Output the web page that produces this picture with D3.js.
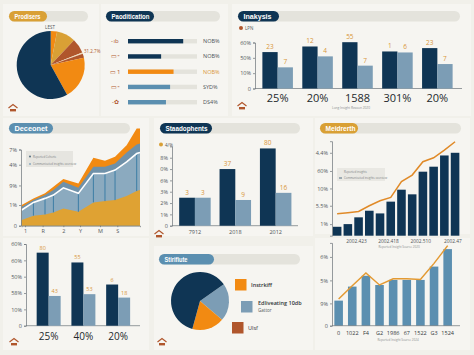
<!DOCTYPE html>
<html>

<head>
    <title>Dashboard</title>
    <script src="https://cdnjs.cloudflare.com/ajax/libs/d3/7.6.1/d3.min.js"></script>
    <style>
        html,
        body {
            margin: 0;
            padding: 0;
            background-color: #f1f0ea;
        }

        svg {
            display: block;
            font-family: 'Open Sans', sans-serif;
        }

        .axis path,
        .axis line {
            stroke: #6b7278;
            stroke-width: 0.7;
        }

        .axis text {
            fill: #55595c;
        }

        .title {
            font-family: 'Liberation Sans', sans-serif;
        }
    </style>
</head>

<body>
    <div id="chart"></div>

    <script>
        const navy = '#0f3554';
        const steel = '#7c9db5';
        const blue = '#5b8fb0';
        const orange = '#f28a12';
        const gold = '#d9a035';
        const rust = '#b0562c';
        const track = '#e4e3dc';

        // top left pie
        const pieValues = [3, 9, 7, 0.6, 2, 20.4, 58];
        const pieColors = [orange, gold, rust, '#f0d9b8', rust, orange, navy];

        // progress rows
        const rowValues = [80, 48, 66, 61, 55];
        const rowLabels = ['NOB%', 'NOB%', 'NOB%', 'SYD%', 'DS4%'];
        const rowColors = [navy, navy, orange, blue, blue];
        const rowIcons = ['⁃ıb', '▭⁃', '▭ 1', '▭⁃', '⁃✿'];

        // analysis bars
        const analysisCats = ['25%', '20%', '1588', '301%', '20%'];
        const analysisDark = [47.5, 54.8, 60.4, 48.3, 52.7];
        const analysisLight = [27.6, 41.9, 29.8, 47, 31.9];
        const analysisDarkLabels = ['23', '12', '55', '1', '23'];
        const analysisLightLabels = ['7', '4', '7', '6', '7'];
        const analysisTicks = [0, 20, 40, 60];
        const analysisTickLabels = ['0', '10%', '50%', '60%'];

        // stacked area
        const areaX = [0, 9.9, 19.7, 26.8, 35.2, 47.9, 60.6, 70.4, 78.9, 88.7, 97.2, 100];
        const areaGold = [0.52, 0.92, 1.04, 1.22, 1.59, 1.28, 2.14, 2.26, 2.35, 2.72, 3.18, 3.27];
        const areaSteel = [1.44, 2.14, 2.51, 2.81, 3.48, 2.97, 4.8, 4.8, 5.11, 5.87, 6.63, 6.73];
        const areaBand = [1.74, 2.35, 2.81, 3.27, 4.04, 3.48, 5.41, 5.41, 5.72, 6.73, 7.46, 7.55];
        const areaOrange = [1.9, 2.51, 2.97, 3.58, 4.28, 3.88, 6.24, 5.96, 6.33, 7.4, 8.93, 8.93];
        const areaDrops = [1, 2, 3, 5, 6, 7, 8, 10];
        const areaTicks = [0, 1.9, 3.7, 5.6, 7];
        const areaTickLabels = ['0', '1%', '9%', '4%', '7%'];
        const areaXTicks = [2.8, 17.7, 35.2, 49.3, 66.2, 80.8];
        const areaXLabels = ['1', 'R', '2', 'Y', 'M', 'S'];

        // middle bars
        const midCats = ['7912', '2018', '2012'];
        const midDark = [2.47, 5, 6.82];
        const midLight = [2.47, 2.27, 2.9];
        const midDarkLabels = ['3', '37', '80'];
        const midLightLabels = ['3', '9', '16'];
        const midTicks = [0, 1, 2, 3, 4, 5, 6];
        const midTickLabels = ['0', '1%', '2%', '3%', '6%', '0%', '8%'];

        // bars and line, right
        const rightBars = [0.5, 0.65, 1.03, 1.4, 1.25, 1.91, 2.58, 2.32, 3.59, 3.87, 4.5, 4.65];
        const rightLine = [1.23, 1.29, 1.36, 1.68, 1.96, 2.15, 3.03, 3.4, 4.15, 4.37, 4.8, 5.27];
        const rightTicks = [0.65, 1.68, 2.65, 3.63, 4.65];
        const rightTickLabels = ['1%', '5.5%', '10%', '60%', '4.4%'];
        const rightXLabels = ['2002.423', '2002.418', '2002.510', '2002.47'];

        // lower left bars
        const lowCats = ['25%', '40%', '20%'];
        const lowDark = [44.7, 38.7, 25.2];
        const lowLight = [18.2, 19.3, 17.2];
        const lowDarkLabels = ['80', '55', '6'];
        const lowLightLabels = ['43', '53', '18'];
        const lowTicks = [0, 10, 20, 30, 40, 50];
        const lowTickLabels = ['0', '10%', '58%', '50%', '60%', '60%'];

        // lower pie
        const pie2Values = [21, 18, 61];
        const pie2Colors = [steel, orange, navy];

        // bottom right
        const endCats = ['0', '1022', 'F4', 'G2', '1986', '67', '1522', 'G3', '1524'];
        const endBars = [1.09, 1.7, 2.17, 1.77, 1.99, 1.99, 1.99, 2.57, 3.33];
        const endLine = [1.16, 1.74, 2.29, 1.77, 2.04, 2.04, 2.01, 2.71, 3.48];
        const endTicks = [0, 0.97, 1.97, 2.99];
        const endTickLabels = ['0', '9%', '5%', '6%'];

        const svg = d3.select('#chart').append('svg').attr('width', 474).attr('height', 355);

        svg.append('rect').attr('width', 474).attr('height', 355).attr('fill', '#f1f0ea');

        // panels
        const panels = [[3, 4, 96, 112], [101, 4, 127, 112], [232, 4, 239, 112],
            [3, 118, 146, 118], [154, 118, 159, 118], [315, 118, 155, 116],
            [3, 238, 146, 112], [154, 246, 159, 104], [315, 238, 155, 112]];
        svg.selectAll('rect.panel').data(panels).enter().append('rect')
            .attr('class', 'panel')
            .attr('x', d => d[0]).attr('y', d => d[1])
            .attr('width', d => d[2]).attr('height', d => d[3])
            .attr('fill', '#f6f5f1');

        function header(text, x, y, pillW, trackW, color, textW) {
            svg.append('rect').attr('x', x).attr('y', y).attr('width', trackW).attr('height', 10.5)
                .attr('rx', 5.2).attr('fill', track);
            svg.append('rect').attr('x', x).attr('y', y).attr('width', pillW).attr('height', 10.5)
                .attr('rx', 5.2).attr('fill', color);
            svg.append('text').attr('class', 'title').attr('x', x + 5.5).attr('y', y + 7.8).attr('fill', '#fff')
                .attr('font-size', 7).attr('font-weight', 700)
                .attr('textLength', textW).attr('lengthAdjust', 'spacingAndGlyphs').text(text);
        }

        function homeIcon(x, y) {
            const g = svg.append('g').attr('transform', `translate(${x},${y})`);
            g.append('path').attr('d', 'M-4.5 0L0 -3.5L4.5 0').attr('fill', 'none')
                .attr('stroke', rust).attr('stroke-width', 1.2);
            g.append('rect').attr('x', -3).attr('y', 1).attr('width', 6).attr('height', 2.4).attr('fill', rust);
        }

        function drawPie(values, colors, cx, cy, r, startAngle) {
            const pie = d3.pie().sort(null).startAngle(startAngle).endAngle(startAngle + 2 * Math.PI);
            const arc = d3.arc().innerRadius(0).outerRadius(r);
            svg.append('g').attr('transform', `translate(${cx},${cy})`)
                .selectAll('path').data(pie(values)).enter().append('path')
                .attr('d', arc)
                .attr('fill', (d, i) => colors[i]);
        }

        function leftAxis(scale, x, ticks, labels, size) {
            svg.append('g').attr('class', 'axis').attr('transform', `translate(${x},0)`)
                .call(d3.axisLeft(scale).tickValues(ticks).tickSize(2).tickPadding(2)
                    .tickFormat((d, i) => labels[i]))
                .style('font-size', size + 'px')
                .style('font-family', 'inherit');
        }

        function groupedBars(cats, dark, light, darkLabels, lightLabels, x, y, labelSize) {
            const inner = d3.scaleBand().domain([0, 1]).range([0, x.bandwidth()]);
            [[dark, navy, darkLabels, 0], [light, steel, lightLabels, 1]].forEach(([vals, color, labels, k]) => {
                svg.append('g').selectAll('rect').data(vals).enter().append('rect')
                    .attr('x', (d, i) => x(cats[i]) + inner(k))
                    .attr('y', d => y(d))
                    .attr('width', inner.bandwidth())
                    .attr('height', d => y(0) - y(d))
                    .attr('fill', color);
                svg.append('g').selectAll('text').data(vals).enter().append('text')
                    .attr('x', (d, i) => x(cats[i]) + inner(k) + inner.bandwidth() / 2)
                    .attr('y', d => y(d) - 3)
                    .attr('text-anchor', 'middle')
                    .attr('font-size', labelSize)
                    .attr('fill', '#d9963a')
                    .text((d, i) => labels[i]);
            });
        }

        function uniqueBand(cats, x0, x1, padding) {
            return d3.scaleBand().domain(cats.map((c, i) => i)).range([x0, x1]).padding(padding);
        }

        function baseline(x0, x1, y) {
            svg.append('line').attr('x1', x0).attr('x2', x1).attr('y1', y).attr('y2', y)
                .attr('stroke', '#6b7278').attr('stroke-width', 0.7);
        }

        // --- top left pie
        header('Prodisers', 9, 11, 38, 79, gold, 26);
        drawPie(pieValues, pieColors, 50.7, 65, 34, 0);
        svg.append('text').attr('x', 50).attr('y', 28.5).attr('text-anchor', 'middle')
            .attr('font-size', 4.5).attr('fill', '#55595c').text('LEST');
        svg.append('text').attr('x', 84).attr('y', 53).attr('font-size', 4.5)
            .attr('fill', rust).text('31.2.7%');
        homeIcon(13, 108);

        // --- progress rows
        header('Paoditication', 106, 11, 48, 114, navy, 38);
        const rowX = d3.scaleLinear().domain([0, 100]).range([128, 197]);
        const rowY = d3.scalePoint().domain(d3.range(5)).range([41, 102]);
        svg.append('g').selectAll('rect').data(rowValues).enter().append('rect')
            .attr('x', rowX(0)).attr('y', (d, i) => rowY(i) - 2)
            .attr('width', rowX(100) - rowX(0)).attr('height', 4.4).attr('fill', track);
        svg.append('g').selectAll('rect').data(rowValues).enter().append('rect')
            .attr('x', rowX(0)).attr('y', (d, i) => rowY(i) - 2)
            .attr('width', d => rowX(d) - rowX(0)).attr('height', 4.4)
            .attr('fill', (d, i) => rowColors[i]);
        svg.append('g').selectAll('text').data(rowLabels).enter().append('text')
            .attr('x', 203).attr('y', (d, i) => rowY(i) + 2)
            .attr('font-size', 5.5)
            .attr('fill', (d, i) => i === 2 ? '#d9963a' : '#4d5256')
            .text(d => d);
        svg.append('g').selectAll('text').data(rowIcons).enter().append('text')
            .attr('x', 115).attr('y', (d, i) => rowY(i) + 2)
            .attr('text-anchor', 'middle')
            .attr('font-size', 6)
            .attr('fill', rust)
            .text(d => d);

        // --- analysis
        header('Inakysis', 238, 11, 41, 222, navy, 28);
        svg.append('circle').attr('cx', 241).attr('cy', 28).attr('r', 2).attr('fill', rust);
        svg.append('text').attr('x', 245).attr('y', 30).attr('font-size', 4.5).attr('fill', '#55595c').text('LPN');
        const anX = uniqueBand(analysisCats, 253, 462, 0.235);
        const anY = d3.scaleLinear().domain([0, 60]).range([88.5, 42.5]);
        leftAxis(anY, 255, analysisTicks, analysisTickLabels, 5.5);
        baseline(255, 462, 88.5);
        groupedBars(analysisCats.map((c, i) => i), analysisDark, analysisLight, analysisDarkLabels, analysisLightLabels, anX, anY, 6.5);
        svg.append('g').selectAll('text').data(analysisCats).enter().append('text')
            .attr('x', (d, i) => anX(i) + anX.bandwidth() / 2)
            .attr('y', 102)
            .attr('text-anchor', 'middle')
            .attr('font-size', 11)
            .attr('fill', '#24292c')
            .text(d => d);
        svg.append('text').attr('x', 351).attr('y', 108.5).attr('text-anchor', 'middle')
            .attr('font-size', 3.2).attr('fill', '#8b8f90').text('Long Insight Reason 2020');
        homeIcon(242, 106);

        // --- stacked area
        header('Deceonet', 9, 123, 44, 121, blue, 33);
        const arX = d3.scaleLinear().domain([0, 100]).range([21.7, 140]);
        const arY = d3.scaleLinear().domain([0, 7]).range([225.7, 149.5]);
        const arLayers = [[areaOrange, orange], [areaBand, '#6f91a9'], [areaSteel, '#8baabf'], [areaGold, '#dfa233']];
        arLayers.forEach(([vals, color]) => {
            const area = d3.area().x((d, i) => arX(areaX[i])).y0(arY(0)).y1(d => arY(d));
            svg.append('path').datum(vals).attr('d', area(vals)).attr('fill', color);
        });
        svg.append('g').selectAll('line').data(areaDrops).enter().append('line')
            .attr('x1', d => arX(areaX[d])).attr('x2', d => arX(areaX[d]))
            .attr('y1', d => arY(areaSteel[d])).attr('y2', d => arY(areaGold[d]))
            .attr('stroke', '#3d7ea6').attr('stroke-width', 1);
        svg.append('path').datum(areaSteel)
            .attr('d', d3.line().x((d, i) => arX(areaX[i])).y(d => arY(d)))
            .attr('fill', 'none').attr('stroke', '#fff').attr('stroke-width', 1.6);
        leftAxis(arY, 21, areaTicks, areaTickLabels, 5.5);
        svg.append('g').attr('class', 'axis').attr('transform', `translate(0,${arY(0)})`)
            .call(d3.axisBottom(arX).tickValues(areaXTicks).tickSize(1.5).tickPadding(1.5)
                .tickFormat((d, i) => areaXLabels[i]))
            .style('font-size', '5.5px').style('font-family', 'inherit');
        svg.append('rect').attr('x', 26).attr('y', 151).attr('width', 47).attr('height', 16).attr('fill', '#e6e5e0');
        svg.append('circle').attr('cx', 30).attr('cy', 156.5).attr('r', 1).attr('fill', '#55707f');
        svg.append('circle').attr('cx', 30).attr('cy', 164).attr('r', 1).attr('fill', '#8baabf');
        svg.append('text').attr('x', 33).attr('y', 157.5).attr('font-size', 2.8).attr('fill', '#7d8284').text('Reported Cohorts');
        svg.append('text').attr('x', 33).attr('y', 165).attr('font-size', 2.8).attr('fill', '#7d8284').text('Communicated insights overview');

        // --- middle bars
        header('Staadophents', 160, 123, 52, 140, navy, 42);
        svg.append('circle').attr('cx', 161).attr('cy', 144.5).attr('r', 2).attr('fill', gold);
        svg.append('text').attr('x', 165).attr('y', 146.5).attr('font-size', 4.5).attr('fill', '#55595c').text('4/%');
        const midX = uniqueBand(midCats, 170.3, 300.3, 0.22);
        const midY = d3.scaleLinear().domain([0, 7]).range([225.7, 146.4]);
        leftAxis(midY, 172, midTicks, midTickLabels, 5.5);
        baseline(172, 298, 225.7);
        groupedBars(midCats.map((c, i) => i), midDark, midLight, midDarkLabels, midLightLabels, midX, midY, 6.5);
        svg.append('g').selectAll('text').data(midCats).enter().append('text')
            .attr('x', (d, i) => midX(i) + midX.bandwidth() / 2)
            .attr('y', 234)
            .attr('text-anchor', 'middle')
            .attr('font-size', 5.5)
            .attr('fill', '#4d5256')
            .text(d => d);
        homeIcon(159, 234);

        // --- right bars with line
        header('Meidrerth', 320, 123, 38, 141, gold, 30);
        const rX = d3.scaleBand().domain(d3.range(rightBars.length)).range([330.7, 461.5]).padding(0.2);
        const rY = d3.scaleLinear().domain([0, 5.3]).range([235.7, 141.2]);
        svg.append('g').selectAll('rect').data(rightBars).enter().append('rect')
            .attr('x', (d, i) => rX(i)).attr('y', d => rY(d))
            .attr('width', rX.bandwidth()).attr('height', d => rY(0) - rY(d))
            .attr('fill', navy);
        svg.append('path').datum(rightLine)
            .attr('d', d3.line().x((d, i) => rX(i) + rX.bandwidth() / 2).y(d => rY(d)))
            .attr('fill', 'none').attr('stroke', '#e08a28').attr('stroke-width', 1.5);
        leftAxis(rY, 332, rightTicks, rightTickLabels, 5.5);
        svg.append('rect').attr('x', 337).attr('y', 168).attr('width', 48).attr('height', 13).attr('fill', '#e9e8e3');
        svg.append('text').attr('x', 344).attr('y', 172.5).attr('font-size', 2.8).attr('fill', '#7d8284').text('Reported insights');
        svg.append('line').attr('x1', 339).attr('x2', 342).attr('y1', 178).attr('y2', 178).attr('stroke', navy).attr('stroke-width', 0.7);
        svg.append('text').attr('x', 344).attr('y', 179).attr('font-size', 2.8).attr('fill', '#7d8284').text('Communicated insights overview');
        svg.append('g').selectAll('text').data(rightXLabels).enter().append('text')
            .attr('x', (d, i) => rX(1 + i * 3) + rX.bandwidth() * 1.5)
            .attr('y', 243)
            .attr('text-anchor', 'middle')
            .attr('font-size', 4.8)
            .attr('fill', '#4d5256')
            .text(d => d);
        svg.append('text').attr('x', 399).attr('y', 247.5).attr('text-anchor', 'middle')
            .attr('font-size', 3).attr('fill', '#8b8f90').text('Reported Insight Source 2020');

        // --- lower left bars
        const lowX = uniqueBand(lowCats, 25.9, 140.9, 0.31);
        const lowY = d3.scaleLinear().domain([0, 50]).range([325.7, 244]);
        leftAxis(lowY, 26, lowTicks, lowTickLabels, 5.5);
        baseline(26, 140, 325.7);
        groupedBars(lowCats.map((c, i) => i), lowDark, lowLight, lowDarkLabels, lowLightLabels, lowX, lowY, 5.5);
        svg.append('g').selectAll('text').data(lowCats).enter().append('text')
            .attr('x', (d, i) => lowX(i) + lowX.bandwidth() / 2)
            .attr('y', 340)
            .attr('text-anchor', 'middle')
            .attr('font-size', 10)
            .attr('fill', '#24292c')
            .text(d => d);
        homeIcon(14, 342);

        // --- lower pie
        header('Stirifiute', 159, 254, 55, 141, blue, 23);
        drawPie(pie2Values, pie2Colors, 200, 301, 29, 55 * Math.PI / 180);
        const legendSquares = [[235, 279, orange], [241, 301, steel], [232, 322, rust]];
        svg.selectAll('rect.sw').data(legendSquares).enter().append('rect')
            .attr('class', 'sw')
            .attr('x', d => d[0]).attr('y', d => d[1])
            .attr('width', 11.5).attr('height', 11.5)
            .attr('fill', d => d[2]);
        svg.append('text').attr('x', 251).attr('y', 287).attr('font-size', 5.5).attr('font-weight', 600).attr('fill', '#2f3437').text('Instrkiff');
        svg.append('text').attr('x', 258).attr('y', 305).attr('font-size', 5.5).attr('font-weight', 600).attr('fill', '#2f3437').text('Edliveating 10db');
        svg.append('text').attr('x', 258).attr('y', 312).attr('font-size', 4.5).attr('fill', '#55595c').text('Gattor');
        svg.append('text').attr('x', 248).attr('y', 330).attr('font-size', 5.5).attr('fill', '#2f3437').text('Ulsf');
        homeIcon(162, 342);

        // --- bottom right
        const eX = d3.scaleBand().domain(d3.range(endBars.length)).range([329.3, 457]).padding(0.37);
        const eY = d3.scaleLinear().domain([0, 3.6]).range([325.7, 242.9]);
        svg.append('g').selectAll('rect').data(endBars).enter().append('rect')
            .attr('x', (d, i) => eX(i)).attr('y', d => eY(d))
            .attr('width', eX.bandwidth()).attr('height', d => eY(0) - eY(d))
            .attr('fill', blue);
        svg.append('path').datum(endLine)
            .attr('d', d3.line().x((d, i) => eX(i) + eX.bandwidth() / 2).y(d => eY(d)))
            .attr('fill', 'none').attr('stroke', '#e39a33').attr('stroke-width', 1.5);
        leftAxis(eY, 332, endTicks, endTickLabels, 5.5);
        baseline(332, 460, 325.7);
        svg.append('g').selectAll('text').data(endCats).enter().append('text')
            .attr('x', (d, i) => eX(i) + eX.bandwidth() / 2)
            .attr('y', 335)
            .attr('text-anchor', 'middle')
            .attr('font-size', 5.5)
            .attr('fill', '#33383b')
            .text(d => d);
        svg.append('text').attr('x', 398).attr('y', 341).attr('text-anchor', 'middle')
            .attr('font-size', 3).attr('fill', '#8b8f90').text('Reported Insight Source 2024');
    </script>
</body>

</html>
